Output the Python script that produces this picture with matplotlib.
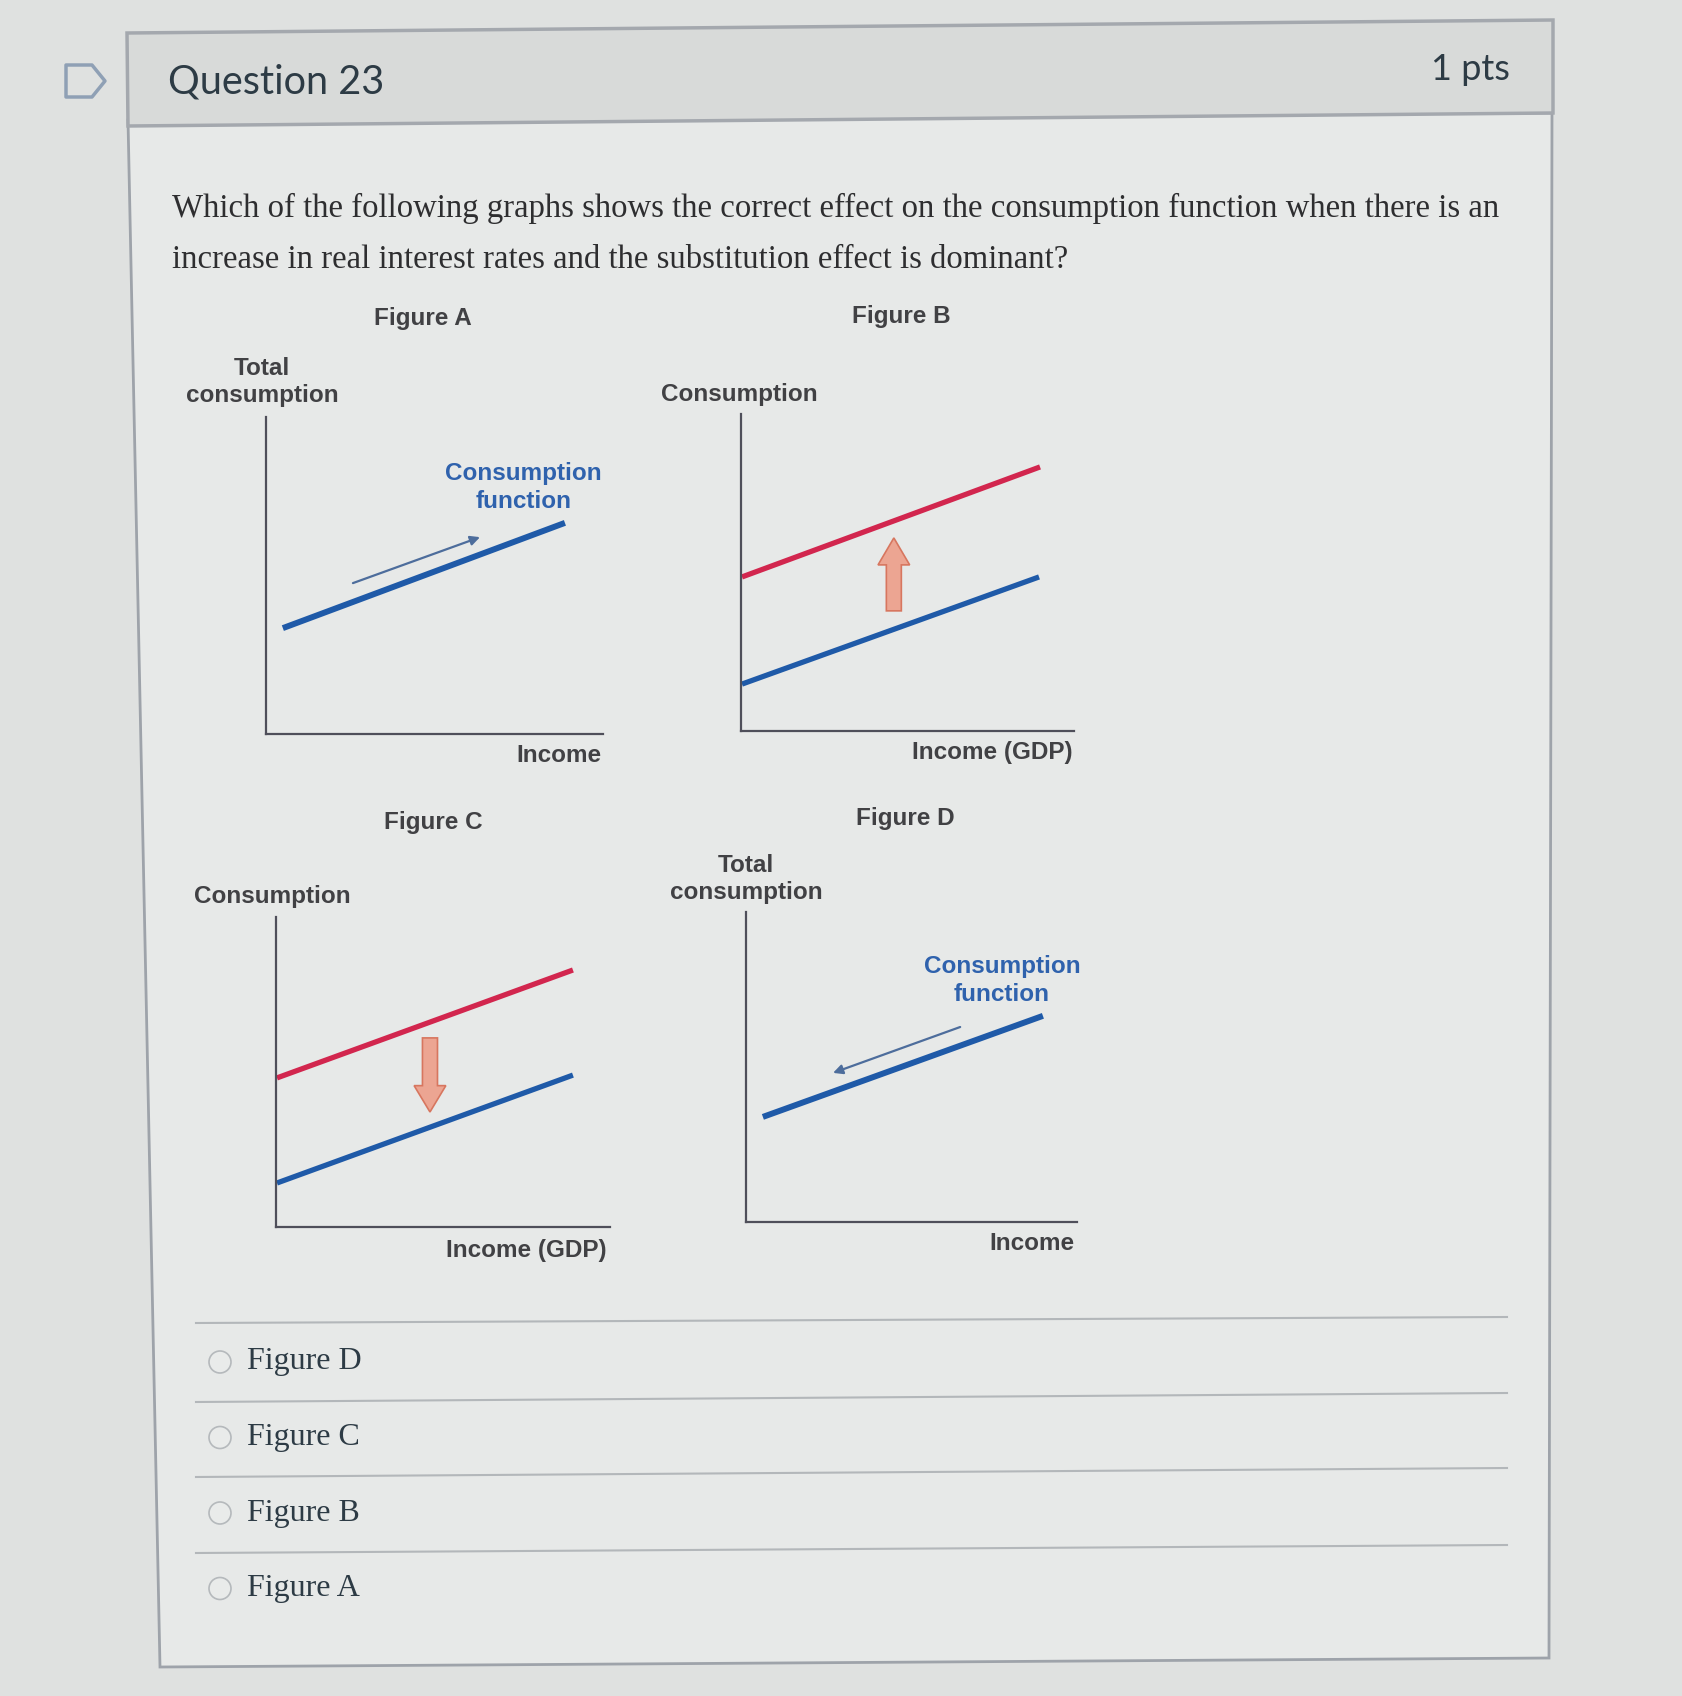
import matplotlib.pyplot as plt
from matplotlib.patches import Polygon, Circle

W, H = 1683, 1696

question_title = "Question 23"
points_label = "1 pts"
question_lines = [
    "Which of the following graphs shows the correct effect on the consumption function when there is an",
    "increase in real interest rates and the substitution effect is dominant?",
]
answer_options = ["Figure D", "Figure C", "Figure B", "Figure A"]

# curves of the four small graphs, in 0-10 units of each graph
a_curve_x = [0.5, 8.87]
a_curve_y = [3.34, 6.66]
a_move_x = [2.58, 6.35]     # thin arrow along the curve (tail -> head)
a_move_y = [4.76, 6.21]

b_old_x = [0.03, 8.95]
b_old_y = [1.48, 4.86]
b_new_x = [0.03, 8.98]
b_new_y = [4.86, 8.33]
b_shift_x = 4.59
b_shift_y = [3.79, 6.09]    # tail, head

c_old_x = [0.03, 8.89]
c_old_y = [4.81, 8.29]
c_new_x = [0.03, 8.89]
c_new_y = [1.42, 4.90]
c_shift_x = 4.61
c_shift_y = [6.10, 3.71]

d_curve_x = [0.51, 8.97]
d_curve_y = [3.39, 6.65]
d_move_x = [6.47, 2.63]
d_move_y = [6.29, 4.81]

BLUE = "#1f5aa8"
RED = "#d2264e"
LABEL = "#414144"
TEXT = "#2d3b45"
SANS = ["Liberation Sans", "DejaVu Sans"]
SERIF = ["Liberation Serif", "DejaVu Serif"]

fig = plt.figure(figsize=(W / 100, H / 100), dpi=100)
fig.patch.set_facecolor("#dfe1e0")

page = fig.add_axes([0, 0, 1, 1])
page.set_xlim(0, W)
page.set_ylim(H, 0)
page.axis("off")

# quiz card: body, then header strip
page.add_patch(Polygon([(128, 120), (1552, 113), (1549, 1658), (160, 1667)],
                       closed=True, facecolor="#e7e9e8", edgecolor="#9ea3aa", lw=2))
page.add_patch(Polygon([(127, 33), (1553, 20), (1553, 113), (128, 126)],
                       closed=True, facecolor="#d8dad9", edgecolor="#a4a8ae", lw=2.5))
page.add_patch(Polygon([(66, 65), (92, 65), (105, 81), (92, 97), (66, 97)],
                       closed=True, facecolor="none", edgecolor="#8fa0b5", lw=2.5,
                       joinstyle="round"))

page.text(168, 82, question_title, family=["Lato", "DejaVu Sans"], fontsize=28.5,
          color=TEXT, va="center", ha="left")
page.text(1510, 70, points_label, family=["Lato", "DejaVu Sans"], fontsize=26,
          color=TEXT, va="center", ha="right")

for i, line in enumerate(question_lines):
    page.text(172, 208 + i * 52, line, family=SERIF, fontsize=23.6, color="#2e2e30",
              va="center", ha="left")

# answer list
sep_y = [(1323, 1317), (1402, 1393), (1477, 1468), (1553, 1545)]
for yl, yr in sep_y:
    page.plot([196, 1507], [yl, yr], color="#b3b7ba", lw=1.5)
for i, opt in enumerate(answer_options):
    y = 1362 + i * 75.5
    page.add_patch(Circle((220, y), 11, facecolor="#e9ebea", edgecolor="#b5b9bc", lw=1.2))
    page.text(247, y, opt, family=SERIF, fontsize=23, color=TEXT, va="center", ha="left")


def graph_axes(x0, y0, x1, y1):
    ax = fig.add_axes([x0 / W, 1 - y0 / H, (x1 - x0) / W, (y0 - y1) / H])
    ax.set_xlim(0, 10)
    ax.set_ylim(0, 10)
    ax.set_facecolor("none")
    for s in ["top", "right"]:
        ax.spines[s].set_visible(False)
    for s in ["left", "bottom"]:
        ax.spines[s].set_color("#4f4f5a")
        ax.spines[s].set_linewidth(1.6)
    ax.set_xticks([])
    ax.set_yticks([])
    return ax


def label(x, y, s, **kw):
    kw.setdefault("color", LABEL)
    page.text(x, y, s, family=SANS, fontsize=17.5, fontweight="bold",
              ha=kw.pop("ha", "center"), va="center", linespacing=1.25, **kw)


def block_arrow(ax, x, ys):
    ax.arrow(x, ys[0], 0, ys[1] - ys[0], width=0.45, head_width=0.95,
             head_length=0.85, length_includes_head=True,
             facecolor="#eca592", edgecolor="#d7765f", lw=1.2)


def thin_arrow(ax, xs, ys):
    ax.annotate("", xy=(xs[1], ys[1]), xytext=(xs[0], ys[0]),
                arrowprops=dict(arrowstyle="-|>", color="#4d6d9c", lw=1.6,
                                mutation_scale=14, shrinkA=0, shrinkB=0))


# Figure A
ax = graph_axes(266, 734, 603, 417)
ax.plot(a_curve_x, a_curve_y, color=BLUE, lw=4.3, solid_capstyle="butt")
thin_arrow(ax, a_move_x, a_move_y)
ax.text(7.63, 7.78, "Consumption\nfunction", color="#2f62ad", family=SANS, fontsize=17.5,
        fontweight="bold", ha="center", va="center", linespacing=1.25)
label(423, 319, "Figure A")
label(262, 382, "Total\nconsumption")
label(602, 755, "Income", ha="right")

# Figure B
ax = graph_axes(741, 731, 1074, 414)
ax.plot(b_old_x, b_old_y, color=BLUE, lw=3.8, solid_capstyle="butt")
ax.plot(b_new_x, b_new_y, color=RED, lw=3.8, solid_capstyle="butt")
block_arrow(ax, b_shift_x, b_shift_y)
label(901, 316, "Figure B")
label(739, 394, "Consumption")
label(1073, 752, "Income (GDP)", ha="right")

# Figure C
ax = graph_axes(276, 1227, 610, 917)
ax.plot(c_old_x, c_old_y, color=RED, lw=3.8, solid_capstyle="butt")
ax.plot(c_new_x, c_new_y, color=BLUE, lw=3.8, solid_capstyle="butt")
block_arrow(ax, c_shift_x, c_shift_y)
label(433, 822, "Figure C")
label(272, 896, "Consumption")
label(607, 1250, "Income (GDP)", ha="right")

# Figure D
ax = graph_axes(746, 1222, 1077, 912)
ax.plot(d_curve_x, d_curve_y, color=BLUE, lw=4.3, solid_capstyle="butt")
thin_arrow(ax, d_move_x, d_move_y)
ax.text(7.73, 7.79, "Consumption\nfunction", color="#2f62ad", family=SANS, fontsize=17.5,
        fontweight="bold", ha="center", va="center", linespacing=1.25)
label(905, 818, "Figure D")
label(746, 879, "Total\nconsumption")
label(1075, 1243, "Income", ha="right")

fig.savefig("out.png", dpi=100, facecolor=fig.get_facecolor())
